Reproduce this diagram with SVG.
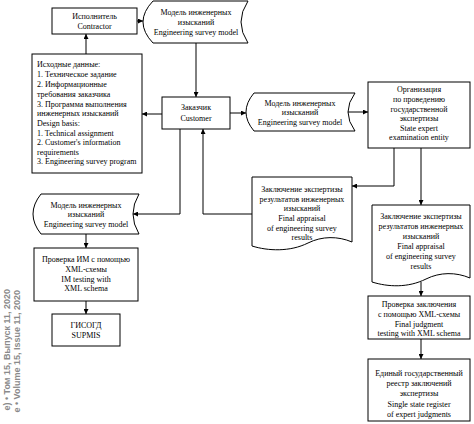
<svg xmlns="http://www.w3.org/2000/svg" width="474" height="424" viewBox="0 0 474 424">
<defs>
<marker id="ah" viewBox="0 0 10 10" refX="10" refY="5" markerWidth="5" markerHeight="5" orient="auto" markerUnits="userSpaceOnUse">
<path d="M0,0 L10,5 L0,10 Z" fill="#000"/>
</marker>
<style>
.b{fill:#fff;stroke:#000;stroke-width:1}
.t{font-family:"Liberation Serif","Times New Roman",serif;font-size:8px;fill:#000;text-anchor:middle}
.l{text-anchor:start}
.c{fill:none;stroke:#000;stroke-width:1;marker-end:url(#ah)}
.side{font-family:"Liberation Sans",Arial,sans-serif;font-weight:bold;font-size:9px;fill:#8a8a8a;text-anchor:end}
</style>
</defs>
<rect width="474" height="424" fill="#fff"/>

<g id="contractor">
<rect class="b" x="52" y="8" width="85" height="26"/>
<text class="t" x="94.5" y="19">Исполнитель</text>
<text class="t" x="94.5" y="29">Contractor</text>
</g>

<g id="model-top">
<path class="b" d="M153,1 H248 Q234,22 248,43 H153 Q133,22 153,1 Z"/>
<text class="t" x="196" y="15">Модель инженерных</text>
<text class="t" x="196" y="25">изысканий</text>
<text class="t" x="196" y="35">Engineering survey model</text>
</g>

<g id="source-data">
<rect class="b" x="32" y="54" width="110" height="119"/>
<text class="t l" x="37" y="67">Исходные данные:</text>
<text class="t l" x="37" y="77">1. Техническое задание</text>
<text class="t l" x="37" y="87">2. Информационные</text>
<text class="t l" x="37" y="97">требования заказчика</text>
<text class="t l" x="37" y="107">3. Программа выполнения</text>
<text class="t l" x="37" y="116">инженерных изысканий</text>
<text class="t l" x="37" y="126">Design basis:</text>
<text class="t l" x="37" y="136">1. Technical assignment</text>
<text class="t l" x="37" y="145">2. Customer's information</text>
<text class="t l" x="37" y="155">requirements</text>
<text class="t l" x="37" y="164">3. Engineering survey program</text>
</g>

<g id="customer">
<rect class="b" x="162" y="97" width="68" height="32"/>
<text class="t" x="196" y="110">Заказчик</text>
<text class="t" x="196" y="121">Customer</text>
</g>

<g id="model-mid">
<path class="b" d="M254,93 H355 Q341,112 355,131 H254 Q238,112 254,93 Z"/>
<text class="t" x="300" y="106">Модель инженерных</text>
<text class="t" x="300" y="115">изысканий</text>
<text class="t" x="300" y="125">Engineering survey model</text>
</g>

<g id="state-expert">
<rect class="b" x="368" y="82" width="102" height="66"/>
<text class="t" x="419" y="92">Организация</text>
<text class="t" x="419" y="102">по проведению</text>
<text class="t" x="419" y="111.5">государственной</text>
<text class="t" x="419" y="121">экспертизы</text>
<text class="t" x="419" y="130.5">State expert</text>
<text class="t" x="419" y="140">examination entity</text>
</g>

<g id="appraisal-1">
<path class="b" d="M252,177 H352 V242 C338,236 322,236 308,243 C290,252 268,251 252,246 Z"/>
<text class="t" x="302" y="192">Заключение экспертизы</text>
<text class="t" x="302" y="202">результатов инженерных</text>
<text class="t" x="302" y="211">изысканий</text>
<text class="t" x="302" y="221">Final appraisal</text>
<text class="t" x="302" y="231">of engineering survey</text>
<text class="t" x="302" y="240">results</text>
</g>

<g id="model-left">
<path class="b" d="M41,194 H139 Q127,214 139,234 H41 Q25,214 41,194 Z"/>
<text class="t" x="86" y="208">Модель инженерных</text>
<text class="t" x="86" y="217">изысканий</text>
<text class="t" x="86" y="227">Engineering survey model</text>
</g>

<g id="im-testing">
<rect class="b" x="34" y="248" width="104" height="53"/>
<text class="t" x="86" y="262">Проверка ИМ с помощью</text>
<text class="t" x="86" y="272">XML-схемы</text>
<text class="t" x="86" y="282">IM testing with</text>
<text class="t" x="86" y="291">XML schema</text>
</g>

<g id="supmis">
<rect class="b" x="52" y="314" width="68" height="32"/>
<text class="t" x="86" y="328">ГИСОГД</text>
<text class="t" x="86" y="338">SUPMIS</text>
</g>

<g id="appraisal-2">
<path class="b" d="M372,205 H470 V278 C456,272 440,272 426,279 C408,288 388,287 372,282 Z"/>
<text class="t" x="421" y="219">Заключение экспертизы</text>
<text class="t" x="421" y="229">результатов инженерных</text>
<text class="t" x="421" y="239">изысканий</text>
<text class="t" x="421" y="249">Final appraisal</text>
<text class="t" x="421" y="259">of engineering survey</text>
<text class="t" x="421" y="269">results</text>
</g>

<g id="judgment-testing">
<rect class="b" x="368" y="296" width="102" height="43"/>
<text class="t" x="419" y="307">Проверка заключения</text>
<text class="t" x="419" y="317">с помощью XML-схемы</text>
<text class="t" x="419" y="327">Final judgment</text>
<text class="t" x="419" y="336">testing with XML schema</text>
</g>

<g id="register">
<rect class="b" x="368" y="359" width="102" height="62"/>
<text class="t" x="419" y="376">Единый государственный</text>
<text class="t" x="419" y="386">реестр заключений</text>
<text class="t" x="419" y="396">экспертизы</text>
<text class="t" x="419" y="407">Single state register</text>
<text class="t" x="419" y="417">of expert judgments</text>
</g>

<g id="connectors">
<path class="c" d="M137,21 H143"/>
<path class="c" d="M86,54 V34"/>
<path class="c" d="M196,43 V97"/>
<path class="c" d="M162,114 H142"/>
<path class="c" d="M230,113 H246"/>
<path class="c" d="M348,112 H368"/>
<path class="c" d="M394,148 V186 H352"/>
<path class="c" d="M421,148 V205"/>
<path class="c" d="M252,214 H203 V129"/>
<path class="c" d="M180,129 V214 H133"/>
<path class="c" d="M86,234 V248"/>
<path class="c" d="M86,301 V314"/>
<path class="c" d="M421,282 V296"/>
<path class="c" d="M421,339 V359"/>
</g>

<g id="side-caption">
<text class="side" transform="translate(9.5,289) rotate(-90)">е) • Том 15, Выпуск 11, 2020</text>
<text class="side" transform="translate(19.5,290) rotate(-90)">e • Volume 15, Issue 11, 2020</text>
</g>
</svg>
